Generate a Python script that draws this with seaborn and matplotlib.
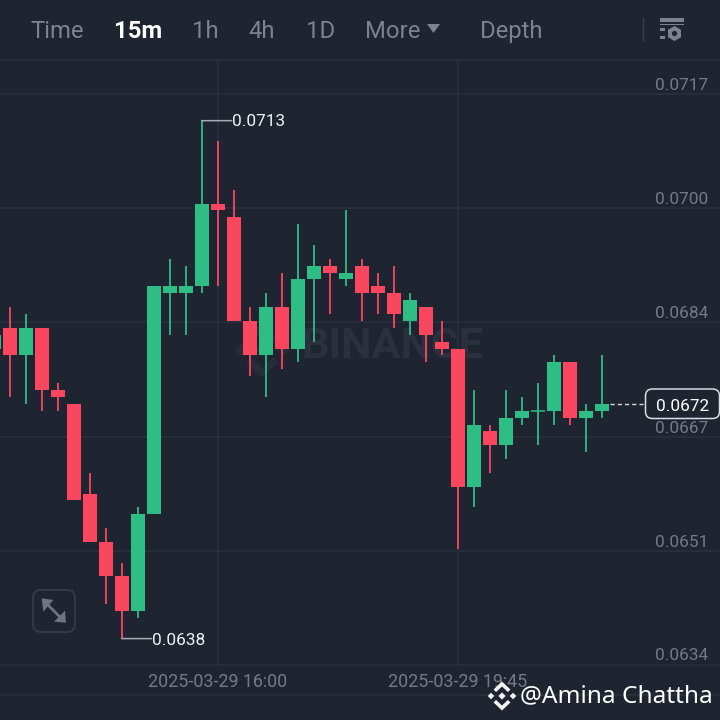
import numpy as np
import pandas as pd
import seaborn as sns
import matplotlib
matplotlib.use("Agg")
import matplotlib.pyplot as plt
from matplotlib.patches import FancyBboxPatch, Polygon, Rectangle, RegularPolygon, Circle

# ---------- data ----------
candle_idx = list(range(-1, 38))
opens = [.0680,.0683,.0679,.0683,.0674,.0672,.0659,.0652,.0647,.0642,.0656,.0688,.0688,.0689,.0701,.0699,.0684,.0679,.0686,.0680,
         .0690,.0692,.0690,.0692,.0689,.0688,.0684,.0686,.0681,.0680,.0660,.0668,.0666,.0670,.0671,.0671,.0678,.0670,.0671]
highs = [.0682,.0686,.0685,.0683,.0675,.0672,.0662,.0654,.0649,.0657,.0689,.0693,.0692,.0713,.0710,.0703,.0686,.0688,.0691,.0698,
         .0695,.0693,.0700,.0693,.0691,.0692,.0688,.0686,.0684,.0680,.0674,.0669,.0674,.0673,.0675,.0679,.0678,.0672,.0679]
lows = [.0680,.0673,.0672,.0671,.0671,.0658,.0652,.0643,.0638,.0641,.0656,.0682,.0682,.0688,.0689,.0684,.0676,.0673,.0677,.0678,
        .0681,.0685,.0689,.0684,.0685,.0683,.0682,.0678,.0679,.0651,.0657,.0662,.0664,.0669,.0666,.0669,.0669,.0665,.0670]
closes = [.0682,.0679,.0683,.0674,.0673,.0658,.0652,.0647,.0642,.0656,.0689,.0689,.0689,.0701,.0700,.0684,.0679,.0686,.0680,.0690,
          .0692,.0691,.0691,.0688,.0688,.0685,.0687,.0682,.0680,.0660,.0669,.0666,.0670,.0671,.0671,.0678,.0670,.0671,.0672]

grid_prices = [.07168, .07003, .06838, .06672, .06507, .06342]
grid_labels = ["0.0717", "0.0700", "0.0684", "0.0667", "0.0651", "0.0634"]
time_idx = [13, 28]
time_labels = ["2025-03-29 16:00", "2025-03-29 19:45"]
tabs = ["Time", "15m", "1h", "4h", "1D", "More", "Depth"]
tab_x = [30, 114, 192, 248, 306, 365, 480]
high_price, low_price, last_price = .0713, .0638, .0672
high_idx, low_idx, last_idx = 12, 7, 37

# ---------- style ----------
BG = "#1f2530"
GRID = "#2b313c"
GREEN = "#2ebd85"
RED = "#fb4660"
GREY = "#7d838e"
TICK = "#737a86"
FONT = "Roboto"

sns.set_theme(style="dark", rc={"axes.facecolor": BG, "figure.facecolor": BG})
plt.rcParams["font.family"] = [FONT, "DejaVu Sans"]

df = pd.DataFrame({"idx": candle_idx, "open": opens, "high": highs, "low": lows, "close": closes})
df["up"] = df["close"] >= df["open"]
df["bottom"] = df[["open", "close"]].min(axis=1)
df["body"] = (df["close"] - df["open"]).abs()

fig = plt.figure(figsize=(7.2, 7.2), dpi=100, facecolor=BG)
bg = fig.add_axes([0, 0, 1, 1], zorder=0)
ax = fig.add_axes([0, 0, 1, 1], zorder=1)
ov = fig.add_axes([0, 0, 1, 1], zorder=2)
for a in (bg, ov):
    a.set_xlim(0, 720); a.set_ylim(720, 0); a.axis("off")
ax.patch.set_alpha(0)
ov.patch.set_alpha(0)


def binance_logo(a, cx, cy, s, color):
    """Binance mark: centre diamond, two chevrons, two side diamonds."""
    for sign in (-1, 1):
        a.plot([cx - 7.2 * s, cx, cx + 7.2 * s],
               [cy + sign * 5.2 * s, cy + sign * 12 * s, cy + sign * 5.2 * s],
               color=color, lw=2.6 * s, solid_joinstyle="miter", solid_capstyle="butt")
        a.add_patch(RegularPolygon((cx + sign * 11 * s, cy), 4, radius=3.3 * s, color=color, lw=0))
    a.add_patch(RegularPolygon((cx, cy), 4, radius=3.6 * s, color=color, lw=0))


# ---------- price scale (pixels mapped through axis limits) ----------
PX_PER_UNIT = 69060.0
y_top = 0.0638 + 638.6 / PX_PER_UNIT
y_bot = 0.0638 - 81.4 / PX_PER_UNIT
x_left = -9.6 / 16
x_right = x_left + 45

# watermark behind the candles
bg.text(392, 347, "BINANCE", color="#2b313c", fontsize=31, fontweight="bold", ha="center", va="center")
binance_logo(bg, 262, 350, 1.9, "#282e39")

# grid
ax.hlines(grid_prices, x_left, x_right, color=GRID, lw=1.1, zorder=1)
ax.vlines(time_idx, grid_prices[-1], y_top - 60 / PX_PER_UNIT, color=GRID, lw=1.1, zorder=1)
bg.hlines([60, 695], 0, 720, color=GRID, lw=1.1)

# wicks
for up, col in [(True, GREEN), (False, RED)]:
    s = df[df["up"] == up]
    ax.vlines(s["idx"], s["low"], s["high"], color=col, lw=1.3, zorder=2)

# bodies
for up, col in [(True, GREEN), (False, RED)]:
    s = df[df["up"] == up].reset_index(drop=True)
    sns.barplot(data=s, x="idx", y="body", native_scale=True, color=col, saturation=1,
                width=0.875, errorbar=None, bottom=s["bottom"].to_numpy(),
                linewidth=0, ax=ax, zorder=3)
flat = df[df["body"] < 1e-9]
ax.hlines(flat["close"], flat["idx"] - 0.44, flat["idx"] + 0.44, color=GREEN, lw=1.1, zorder=3)

ax.set_xlim(x_left, x_right)
ax.set_ylim(y_bot, y_top)
ax.set_xticks([]); ax.set_yticks([])
ax.set_xlabel(""); ax.set_ylabel("")
ax.grid(False)
for sp in ax.spines.values():
    sp.set_visible(False)

# price axis labels
for p, lab in zip(grid_prices, grid_labels):
    ax.annotate(lab, (1, p), xycoords=("axes fraction", "data"), xytext=(-8.6, 1.0), textcoords="offset points",
                color=TICK, fontsize=12.4, ha="right", va="bottom", zorder=4)

# time labels
for i, lab in zip(time_idx, time_labels):
    ax.annotate(lab, (i, y_bot), xycoords="data", xytext=(0, 27.6), textcoords="offset points",
                color=TICK, fontsize=12.9, ha="center", va="center", zorder=4)

# high / low markers
ax.annotate("", (high_idx, high_price), xytext=(30, 0), textcoords="offset pixels",
            arrowprops=dict(arrowstyle="-", color="#a6abb3", lw=1.1, shrinkA=0, shrinkB=0), zorder=5)
ax.annotate(f"{high_price:.4f}", (high_idx, high_price), xytext=(30.5, -1), textcoords="offset pixels",
            color="#eef0f3", fontsize=12.4, ha="left", va="center", zorder=5)
ax.annotate("", (low_idx, low_price), xytext=(30, 0), textcoords="offset pixels",
            arrowprops=dict(arrowstyle="-", color="#a6abb3", lw=1.1, shrinkA=0, shrinkB=0), zorder=5)
ax.annotate(f"{low_price:.4f}", (low_idx, low_price), xytext=(30.5, -2), textcoords="offset pixels",
            color="#eef0f3", fontsize=12.4, ha="left", va="center", zorder=5)

# current price
ax.plot([last_idx + 0.5, x_left + 645 / 16], [last_price, last_price], color="#d5d8dd", lw=1, dashes=(3, 2.2), zorder=5)
ov.add_patch(FancyBboxPatch((651, 394.5), 63, 18.5, boxstyle="round,pad=5.5,rounding_size=7", lw=1.1, ec="#d9dce0", fc=BG))
ov.text(682.5, 406.5, f"{last_price:.4f}", color="white", fontsize=12.4, ha="center", va="center")

# top tabs
for t, x in zip(tabs, tab_x):
    active = t == "15m"
    ov.text(x, 31.5, t, color="white" if active else GREY, fontsize=17.2, ha="left", va="center",
            fontweight="bold" if active else "normal")
ov.add_patch(Polygon([(427, 24), (440, 24), (433.5, 33)], closed=True, color=GREY, lw=0))
ov.vlines(642.5, 17, 41, color="#3a404b", lw=1)
ov.add_patch(Rectangle((660, 18), 24, 3.5, color=GREY, lw=0))
ov.add_patch(Rectangle((660, 23.5), 24, 1.5, color=GREY, lw=0))
ov.add_patch(Rectangle((660, 28), 5, 3, color=GREY, lw=0))
ov.add_patch(Rectangle((660, 36), 5, 3, color=GREY, lw=0))
ov.add_patch(RegularPolygon((674.5, 33.5), 6, radius=7.5, color=GREY, lw=0))
ov.add_patch(Circle((674.5, 33.5), 2.6, color=BG, lw=0))

# expand button
ov.add_patch(FancyBboxPatch((38, 595), 32, 32, boxstyle="round,pad=5,rounding_size=8", lw=1.3, ec="#363c47", fc="none"))
ov.plot([47, 60], [604, 617], color="#6f7580", lw=2.0)
ov.add_patch(Polygon([(41.7, 598.3), (53.3, 600), (43.3, 611.7)], closed=True, color="#6f7580", lw=0))
ov.add_patch(Polygon([(66, 622.7), (54, 621.7), (65, 610.7)], closed=True, color="#6f7580", lw=0))

# bottom watermark
binance_logo(ov, 502, 696, 1.0, "#f2f2f2")
ov.text(520, 696, "@Amina Chattha", color="white", fontsize=17.6, ha="left", va="center", family="Noto Sans")

fig.savefig("out.png", dpi=100, facecolor=BG)
